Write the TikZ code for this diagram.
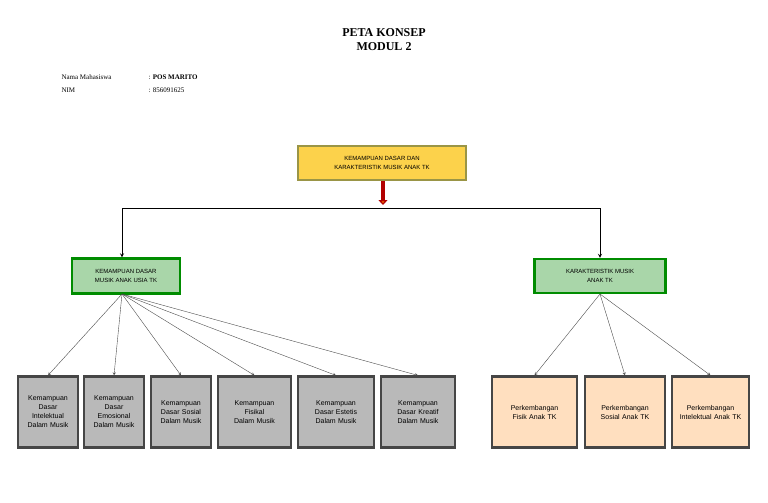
\documentclass[tikz,border=0pt]{standalone}
\usetikzlibrary{arrows.meta}
\usepackage{fontspec}
\setmainfont{Liberation Serif}
\newfontfamily\sansf{Liberation Sans}
\begin{document}
\begin{tikzpicture}[x=1pt,y=-1pt,
 bev/.style={draw=#1!55!black,line width=2.2pt,inner sep=1pt,align=center,font=\sansf\fontsize{7}{9}\selectfont},
 gbox/.style={bev=gray,fill=gray!55,minimum width=#1,minimum height=71pt,text width=#1-16pt},
 yb/.style={bev=yellow,fill=yellow!55!orange!70!white,minimum width=168pt,minimum height=34pt,font=\sansf\fontsize{6}{9}\selectfont},
 grb/.style={bev=green,fill=green!35!gray!50!white,font=\sansf\fontsize{6}{9}\selectfont},
 pb/.style={bev=gray,fill=orange!25!white,minimum width=#1,minimum height=71pt,text width=#1-14pt},
 ln/.style={draw=gray!60!black,line width=0.4pt,-stealth}]
\useasboundingbox (0,0) rectangle (768,503);
\node[font=\bfseries\fontsize{12}{14}\selectfont,align=center] (t) at (384,40) {PETA KONSEP\\MODUL 2};
\node[anchor=west,font=\fontsize{7}{8}\selectfont] (n1) at (58,77) {Nama Mahasiswa};
\node[anchor=west,font=\fontsize{7}{8}\selectfont] (n2) at (58,90) {NIM};
\node[anchor=west,font=\fontsize{7}{8}\selectfont] (v1) at (145,77) {: \textbf{POS MARITO}};
\node[anchor=west,font=\fontsize{7}{8}\selectfont] (v2) at (145,90) {: 856091625};
\node[yb] (top) at (382,163) {KEMAMPUAN DASAR DAN\\KARAKTERISTIK MUSIK ANAK TK};
\node[grb,minimum width=108pt,minimum height=35pt] (L) at (126,276) {KEMAMPUAN DASAR\\MUSIK ANAK USIA TK};
\node[grb,minimum width=131pt,minimum height=34pt] (R) at (600,276) {KARAKTERISTIK MUSIK\\ANAK TK};
\coordinate (j) at (383,208);
\coordinate (jl) at (122,208);
\coordinate (jr) at (600,208);
\draw[line width=0.8pt] (jl) -- (jr);
\draw[line width=4pt,draw=red!70!black,-{Triangle[width=9pt,length=5pt,fill=orange]}] (top.south -| j) -- ([yshift=3pt]j);
\draw[line width=0.8pt,-stealth] (jl) -- (jl |- L.north);
\draw[line width=0.8pt,-stealth] (jr) -- (R.north);
\node[gbox=60pt] (b1) at (48,412) {Kemampuan Dasar Intelektual Dalam Musik};
\node[gbox=60pt] (b2) at (114,412) {Kemampuan Dasar Emosional Dalam Musik};
\node[gbox=60pt] (b3) at (181,412) {Kemampuan Dasar Sosial Dalam Musik};
\node[gbox=73pt] (b4) at (254.5,412) {Kemampuan Fisikal Dalam Musik};
\node[gbox=76pt] (b5) at (336,412) {Kemampuan Dasar Estetis Dalam Musik};
\node[gbox=74pt] (b6) at (418,412) {Kemampuan Dasar Kreatif Dalam Musik};
\node[pb=85pt] (p1) at (534.5,412) {Perkembangan Fisik Anak TK};
\node[pb=80pt] (p2) at (625,412) {Perkembangan Sosial Anak TK};
\node[pb=77pt] (p3) at (710.5,412) {Perkembangan Intelektual Anak TK};
\coordinate (lo) at (122,294);
\coordinate (ro) at (600,294);
\foreach \b in {b1,b2,b3,b4,b5,b6} \draw[ln] (lo) -- (\b.north);
\foreach \b in {p1,p2,p3} \draw[ln] (ro) -- (\b.north);
\end{tikzpicture}
\end{document}
